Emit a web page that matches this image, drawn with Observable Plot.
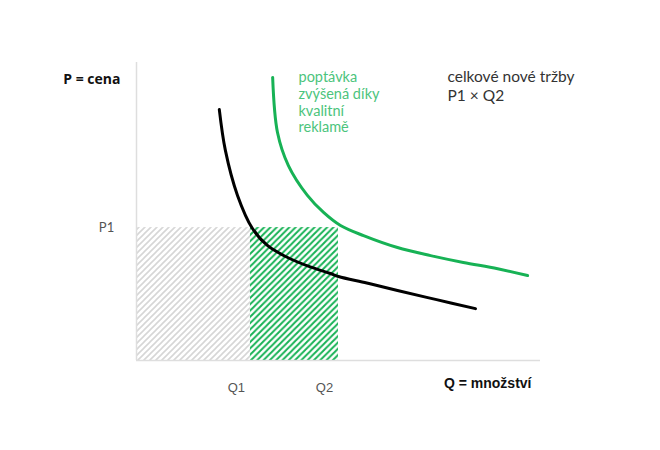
<!DOCTYPE html>
<html>
<head>
<meta charset="utf-8">
<script src="https://cdn.jsdelivr.net/npm/d3@7"></script>
<script src="https://cdn.jsdelivr.net/npm/@observablehq/plot@0.6"></script>
<style>
  html, body { margin: 0; padding: 0; background: #fff; }
</style>
</head>
<body>
<div id="chart"></div>
<script>
// Key levels (in chart units)
const Q1 = 2.82;
const Q2 = 5.0;
const P1 = 4.46;

// Original demand curve (black)
const demandQ = [2.05, 2.20, 2.50, 2.87, 3.24, 3.69, 4.30, 4.80, 5.00, 5.70, 6.46, 7.40, 8.39];
const demandP = [8.42, 7.05, 5.54, 4.43, 3.86, 3.49, 3.14, 2.92, 2.82, 2.60, 2.35, 2.05, 1.74];

// Increased demand curve (green)
const demand2Q = [3.37, 3.49, 3.76, 4.23, 4.63, 5.05, 5.62, 6.46, 7.28, 8.09, 8.94, 9.68];
const demand2P = [9.50, 7.65, 6.54, 5.54, 4.97, 4.53, 4.19, 3.79, 3.52, 3.29, 3.08, 2.85];

const tickLabelsQ = [{v: Q1, t: "Q1"}, {v: Q2, t: "Q2"}];
const tickLabelsP = [{v: P1, t: "P1"}];

const greenNote = ["poptávka", "zvýšená díky", "kvalitní", "reklamě"];
const blackNote = ["celkové nové tržby", "P1 × Q2"];

const line1 = demandQ.map((q, i) => ({q, p: demandP[i]}));
const line2 = demand2Q.map((q, i) => ({q, p: demand2P[i]}));

const green = "#17b255";
const font = "Lato, 'Open Sans', sans-serif";

const svg = Plot.plot({
  width: 660,
  height: 450,
  marginLeft: 136,
  marginRight: 120,
  marginTop: 62,
  marginBottom: 90,
  x: {domain: [0, 10], axis: null},
  y: {domain: [0, 10], axis: null},
  style: {fontFamily: font, background: "#fff"},
  marks: [
    Plot.rect([{x1: 0, x2: Q1, y1: 0, y2: P1}], {x1: "x1", x2: "x2", y1: "y1", y2: "y2", fill: "url(#hatchGray)"}),
    Plot.rect([{x1: Q1, x2: Q2, y1: 0, y2: P1}], {x1: "x1", x2: "x2", y1: "y1", y2: "y2", fill: "url(#hatchGreen)"}),
    Plot.ruleX([0], {stroke: "#dedede", strokeWidth: 1.5}),
    Plot.ruleY([0], {stroke: "#dedede", strokeWidth: 1.5}),
    Plot.line(line1, {x: "q", y: "p", stroke: "#000", strokeWidth: 3, curve: "catmull-rom"}),
    Plot.line(line2, {x: "q", y: "p", stroke: green, strokeWidth: 3, curve: "catmull-rom"}),
    // tick labels
    Plot.text(tickLabelsQ, {x: "v", y: 0, text: "t", dy: 27, dx: -14, fill: "#555", fontSize: 13, fontFamily: "'Liberation Sans', Arial, sans-serif"}),
    Plot.text(tickLabelsP, {x: 0, y: "v", text: "t", dx: -30, fill: "#555", fontSize: 13, fontFamily: font}),
    // axis titles
    Plot.text(["P = cena"], {frameAnchor: "top-left", text: d => d, textAnchor: "end", dx: -16, dy: 12, fill: "#111", fontSize: 14, fontWeight: "bold", fontFamily: "'Open Sans', sans-serif"}),
    Plot.text(["Q = množství"], {frameAnchor: "bottom-right", text: d => d, textAnchor: "end", dx: -9, dy: 27, fill: "#111", fontSize: 14, fontWeight: "bold", fontFamily: "'Liberation Sans', Arial, sans-serif"}),
    // notes
    Plot.text(greenNote, {frameAnchor: "top-left", text: d => d, textAnchor: "start", dx: 162, fill: "#4cc47c", fontSize: 14.5, fontFamily: font}),
    Plot.text(blackNote, {frameAnchor: "top-left", text: d => d, textAnchor: "start", dx: 311, fill: "#333", fontSize: 15.5, fontFamily: font})
  ]
});

// position multi-line notes line by line
const texts = d3.select(svg).selectAll("g[aria-label='text']").nodes();
const greenG = texts[4], blackG = texts[5];
d3.select(greenG).selectAll("text").attr("y", (d, i) => 77 + i * 16.7 - 62).attr("dy", "0.32em");
d3.select(blackG).selectAll("text").attr("y", (d, i) => 77 + i * 18.5 - 62).attr("dy", "0.32em");

d3.select(svg).insert("defs", ":first-child").html(`
  <pattern id="hatchGray" patternUnits="userSpaceOnUse" width="6" height="6">
    <path d="M-1,1 l2,-2 M0,6 l6,-6 M5,7 l2,-2" stroke="#d6d6d6" stroke-width="1.6"/>
  </pattern>
  <pattern id="hatchGreen" patternUnits="userSpaceOnUse" width="6.3" height="6.3">
    <path d="M-1,1 l2,-2 M0,6.3 l6.3,-6.3 M5.3,7.3 l2,-2" stroke="${green}" stroke-width="2"/>
  </pattern>
`);

document.getElementById("chart").appendChild(svg);
</script>
</body>
</html>
